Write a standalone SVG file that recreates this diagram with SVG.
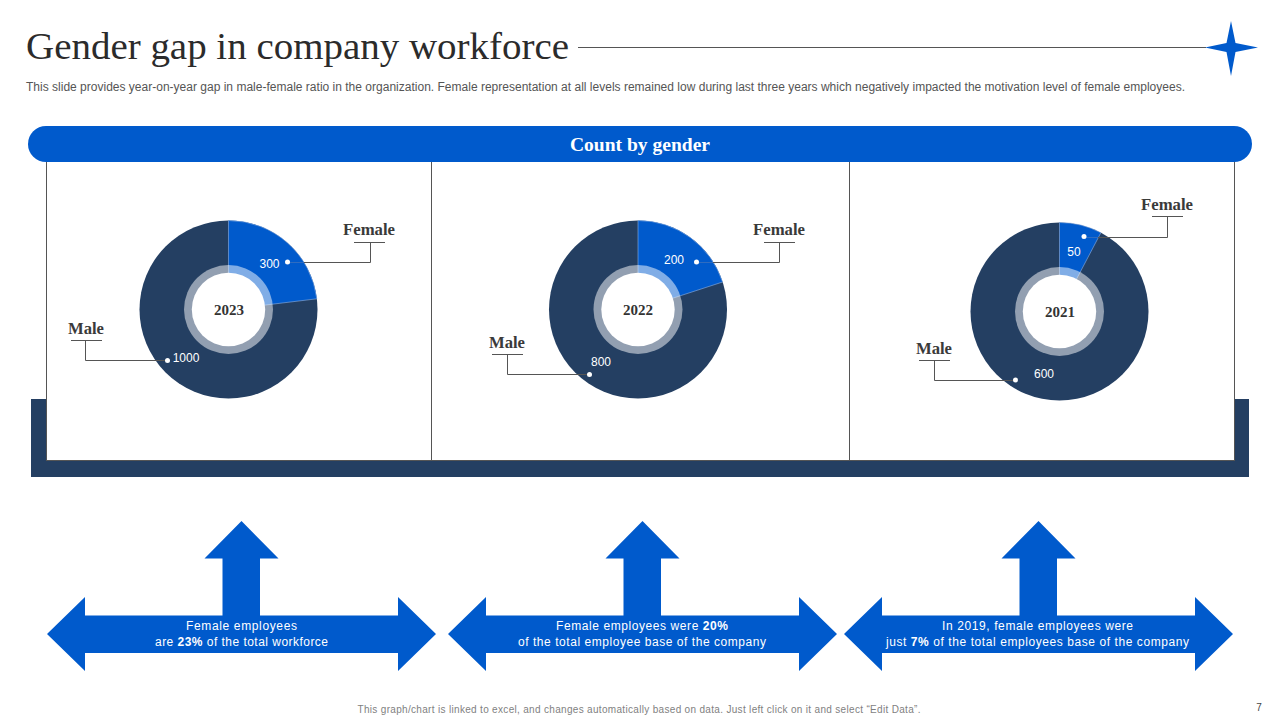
<svg xmlns="http://www.w3.org/2000/svg" width="1280" height="720" viewBox="0 0 1280 720">
<style>
.serif{font-family:"Liberation Serif","DejaVu Serif",serif}
.sans{font-family:"Liberation Sans",Arial,sans-serif}
.blue{fill:#005ACC}
.navy{fill:#243F62}
.lbl{font-family:"Liberation Serif","DejaVu Serif",serif;font-weight:700;font-size:16px;fill:#3a3a3a;text-anchor:middle}
.yr{font-family:"Liberation Serif","DejaVu Serif",serif;font-weight:700;font-size:15px;fill:#333;text-anchor:middle}
.val{font-family:"Liberation Sans",Arial,sans-serif;font-size:12px;fill:#fff;text-anchor:middle}
.cap{font-family:"Liberation Sans",Arial,sans-serif;font-size:12px;fill:#fff;text-anchor:middle}
.ldr{fill:none;stroke:#555;stroke-width:1}
.ldr-in{fill:none;stroke:#2f6cc0;stroke-width:1}
.dot{fill:#fff}
.ring{fill:#fff;fill-opacity:.5}
.hole{fill:#fff}
</style>
<rect width="1280" height="720" fill="#fff"/>
<g id="header">
<text class="serif" x="26" y="59" font-size="38" fill="#2b2b2b" textLength="543" lengthAdjust="spacingAndGlyphs">Gender gap in company workforce</text>
<rect x="578" y="47" width="628" height="1" fill="#555"/>
<path class="blue" d="M1231 21L1235.500 43L1258 47.500L1235.500 52L1231 76L1226.500 52L1205 47.500L1226.500 43Z"/>
<text class="sans" x="26" y="91" font-size="12" fill="#555" textLength="1159" lengthAdjust="spacing">This slide provides year-on-year gap in male-female ratio in the organization. Female representation at all levels remained low during last three years which negatively impacted the motivation level of female employees.</text>
</g>
<g id="frame">
<rect class="navy" x="31" y="399" width="1218" height="78"/>
<rect x="46.500" y="150" width="1188" height="310.500" fill="#fff" stroke="#555" stroke-width="1"/>
<path d="M431.500 160V460M849.500 160V460" stroke="#555" stroke-width="1" fill="none"/>
<rect class="blue" x="28" y="126" width="1224" height="36" rx="18"/>
<text class="serif" x="640" y="150.500" font-size="18" font-weight="700" fill="#fff" text-anchor="middle" textLength="140" lengthAdjust="spacingAndGlyphs">Count by gender</text>
</g>
<g id="chart-2023">
<circle class="navy" cx="228.500" cy="309.500" r="89"/>
<path class="blue" d="M228.500 309.500V220.500A89 89 0 0 1 316.850 298.800Z" stroke="#8fb2e4" stroke-width=".6"/>
<circle class="ring" cx="228.500" cy="309.500" r="44.500"/>
<circle class="hole" cx="228.500" cy="309.500" r="36.700"/>
<text class="yr" x="229" y="315">2023</text>
<text class="val" x="269.500" y="267.500">300</text>
<text class="val" x="186" y="362">1000</text>
</g>
<g id="chart-2022">
<circle class="navy" cx="638" cy="309.500" r="89"/>
<path class="blue" d="M638 309.500V220.500A89 89 0 0 1 722.600 282Z" stroke="#8fb2e4" stroke-width=".6"/>
<circle class="ring" cx="638" cy="309.500" r="44.500"/>
<circle class="hole" cx="638" cy="309.500" r="36.700"/>
<text class="yr" x="638" y="315">2022</text>
<text class="val" x="674" y="264">200</text>
<text class="val" x="601" y="366">800</text>
</g>
<g id="chart-2021">
<circle class="navy" cx="1059.500" cy="311.500" r="89"/>
<path class="blue" d="M1059.500 311.500V222.500A89 89 0 0 1 1100.900 232.700Z" stroke="#8fb2e4" stroke-width=".6"/>
<circle class="ring" cx="1059.500" cy="311.500" r="44.500"/>
<circle class="hole" cx="1059.500" cy="311.500" r="36.700"/>
<text class="yr" x="1060" y="317">2021</text>
<text class="val" x="1074" y="256">50</text>
<text class="val" x="1044" y="378">600</text>
</g>
<g id="connectors">
<path class="ldr" d="M354 242.500H385M370.500 242.500V262.500H304"/>
<path class="ldr-in" d="M304 262.500H288"/>
<path class="ldr" d="M71 340.500H102M85.500 340.500V360.500H168"/>
<path class="ldr" d="M764 242.500H795M779.500 242.500V262.500H713"/>
<path class="ldr-in" d="M713 262.500H697"/>
<path class="ldr" d="M492 354.500H523M507.500 354.500V374.500H590"/>
<path class="ldr" d="M1152 216.500H1183M1167.500 216.500V237.500H1098"/>
<path class="ldr-in" d="M1098 237.500H1084"/>
<path class="ldr" d="M919 360.500H950M934.500 360.500V380.500H1016"/>
<circle class="dot" cx="287.500" cy="262" r="2.500"/>
<circle class="dot" cx="167.500" cy="360.500" r="2.500"/>
<circle class="dot" cx="696.500" cy="262" r="2.500"/>
<circle class="dot" cx="589.500" cy="374.500" r="2.500"/>
<circle class="dot" cx="1084" cy="236.500" r="2.500"/>
<circle class="dot" cx="1015.500" cy="380" r="2.500"/>
</g>
<g id="labels">
<text class="lbl" x="369" y="235" textLength="52" lengthAdjust="spacingAndGlyphs">Female</text>
<text class="lbl" x="86" y="334" textLength="36" lengthAdjust="spacingAndGlyphs">Male</text>
<text class="lbl" x="779" y="235" textLength="52" lengthAdjust="spacingAndGlyphs">Female</text>
<text class="lbl" x="507" y="348" textLength="36" lengthAdjust="spacingAndGlyphs">Male</text>
<text class="lbl" x="1167" y="210" textLength="52" lengthAdjust="spacingAndGlyphs">Female</text>
<text class="lbl" x="934" y="354" textLength="36" lengthAdjust="spacingAndGlyphs">Male</text>
</g>
<defs>
<path id="arrow" d="M0 113L38 76V94.500H175.500V37.500H157.500L194.500 0L231.500 37.500H213V94.500H351V76L389 113L351 150V132H38V150Z"/>
</defs>
<g id="arrow-1">
<use href="#arrow" class="blue" x="47" y="521"/>
<text class="cap" x="241.500" y="630" textLength="111">Female employees</text>
<text class="cap" x="241.500" y="646" textLength="173">are <tspan font-weight="700">23%</tspan> of the total workforce</text>
</g>
<g id="arrow-2">
<use href="#arrow" class="blue" x="448" y="521"/>
<text class="cap" x="642" y="630" textLength="172">Female employees were <tspan font-weight="700">20%</tspan></text>
<text class="cap" x="642" y="646" textLength="248">of the total employee base of the company</text>
</g>
<g id="arrow-3">
<use href="#arrow" class="blue" x="844" y="521"/>
<text class="cap" x="1037.500" y="630" textLength="191">In 2019, female employees were</text>
<text class="cap" x="1037.500" y="646" textLength="303">just <tspan font-weight="700">7%</tspan> of the total employees base of the company</text>
</g>
<g id="footer">
<text class="sans" x="639" y="713" font-size="10" fill="#7f7f7f" text-anchor="middle" textLength="563" lengthAdjust="spacing">This graph/chart is linked to excel, and changes automatically based on data. Just left click on it and select “Edit Data”.</text>
<text class="sans" x="1259" y="711" font-size="10" fill="#444" text-anchor="middle">7</text>
</g>
</svg>
